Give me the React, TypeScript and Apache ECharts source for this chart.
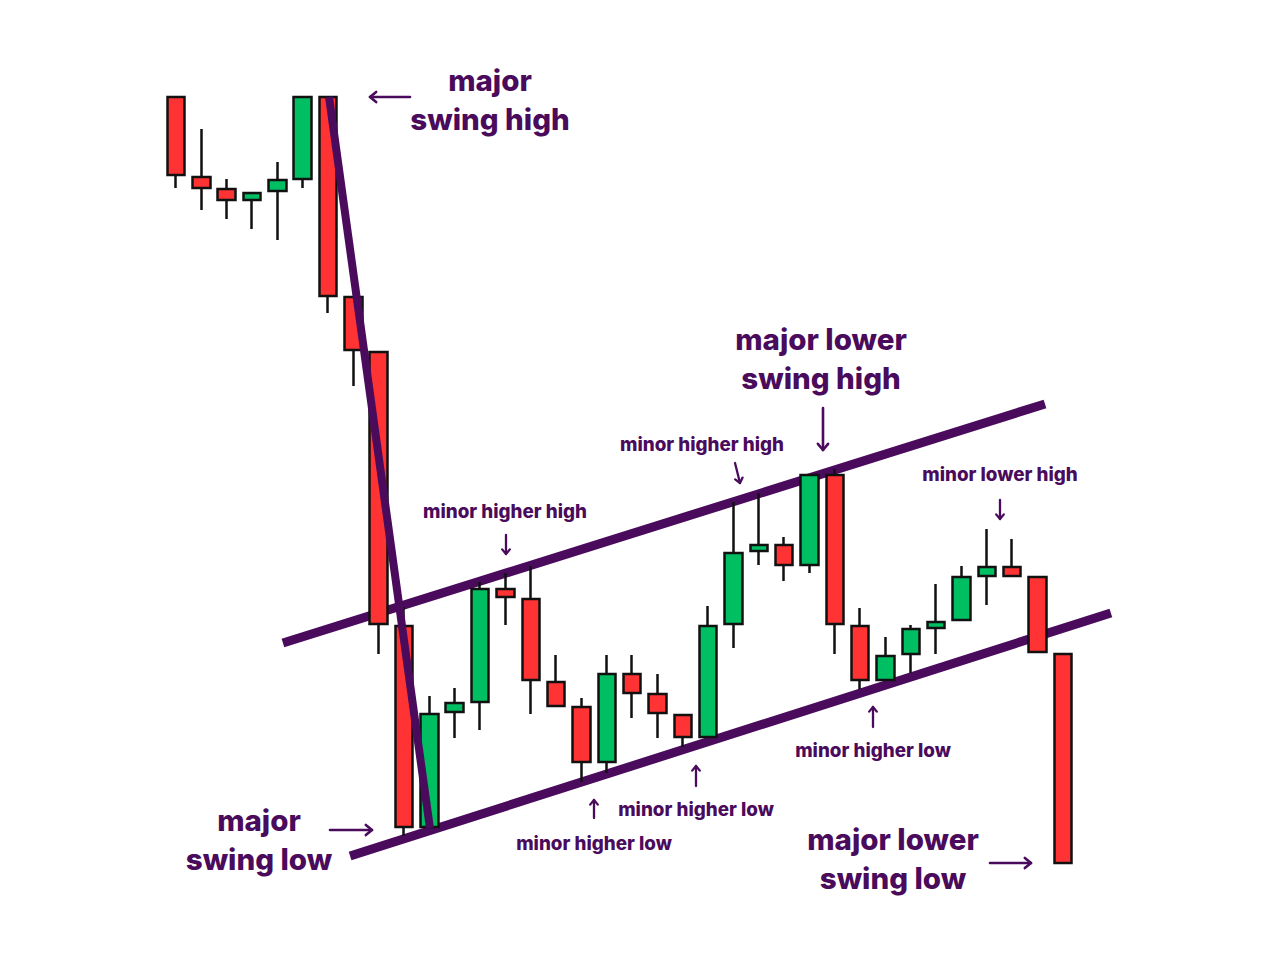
import { useEffect, useRef } from 'react'
import * as echarts from 'echarts'

// Candle data (price units, higher = up the screen).
const categories = [
  'C01', 'C02', 'C03', 'C04', 'C05', 'C06', 'C07', 'C08', 'C09', 'C10', 'C11', 'C12',
  'C13', 'C14', 'C15', 'C16', 'C17', 'C18', 'C19', 'C20', 'C21', 'C22', 'C23', 'C24',
  'C25', 'C26', 'C27', 'C28', 'C29', 'C30', 'C31', 'C32', 'C33', 'C34', 'C35', 'C36',
]
const opens = [
  863, 783, 771, 760, 769, 781, 863, 663, 608, 334, 133, 248,
  258, 371, 361, 278, 253, 198, 286, 266, 245, 223, 336, 409,
  415, 395, 485, 334, 280, 306, 332, 340, 384, 393, 383, 306,
]
const closes = [
  785, 772, 760, 767, 780, 863, 664, 610, 336, 133, 246, 257,
  371, 363, 280, 254, 198, 286, 267, 247, 223, 334, 407, 415,
  395, 485, 336, 280, 304, 331, 338, 383, 393, 384, 308, 97,
]
const lows = [
  772, 750, 741, 731, 720, 772, 647, 574, 306, 124, 133, 222,
  230, 335, 246, 254, 178, 187, 242, 222, 213, 223, 312, 395,
  379, 387, 306, 271, 280, 287, 306, 340, 355, 384, 308, 97,
]
const highs = [
  863, 831, 781, 767, 798, 863, 863, 663, 608, 353, 264, 272,
  378, 387, 394, 305, 262, 305, 305, 286, 245, 354, 458, 467,
  423, 485, 491, 352, 323, 335, 376, 394, 431, 421, 383, 306,
]

// Trend lines as [candle index, price] end points.
const crashLine = [[6.04, 863], [10.02, 132]]
const channelTop = [[4.22, 317], [34.29, 556]]
const channelBottom = [[6.87, 104], [36.89, 347]]

const RED = '#ff3333'
const GREEN = '#00bf63'
const INK = '#111111'
const PURPLE = '#4a0b5c'
const FONT = 'Inter, "Noto Sans", sans-serif'

// Candle grid geometry, in px: band edges and candle pitch.
const GRID_LEFT = 163.3
const GRID_RIGHT = 204.4
const PITCH = 25.343

type Pt = [number, number]

function arrow(from: Pt, to: Pt, head = 8, width = 2.6) {
  const ang = Math.atan2(to[1] - from[1], to[0] - from[0])
  const spread = Math.PI * 0.78
  const p1: Pt = [to[0] + head * Math.cos(ang + spread), to[1] + head * Math.sin(ang + spread)]
  const p2: Pt = [to[0] + head * Math.cos(ang - spread), to[1] + head * Math.sin(ang - spread)]
  return {
    type: 'group',
    silent: true,
    children: [
      {
        type: 'line',
        shape: { x1: from[0], y1: from[1], x2: to[0], y2: to[1] },
        style: { stroke: PURPLE, lineWidth: width, lineCap: 'round' },
      },
      {
        type: 'polyline',
        shape: { points: [p1, to, p2] },
        style: { stroke: PURPLE, lineWidth: width, fill: null, lineCap: 'round', lineJoin: 'round' },
      },
    ],
  }
}

function label(text: string, x: number, y: number, size: number) {
  return {
    type: 'text',
    x,
    y,
    silent: true,
    style: {
      text,
      fill: PURPLE,
      fontSize: size,
      fontWeight: 800,
      fontFamily: FONT,
      align: 'center',
      verticalAlign: 'middle',
      textAlign: 'center',
      textVerticalAlign: 'middle',
    },
  }
}

const BIG = 29.5
const SMALL = 18.8

function buildOption(): echarts.EChartsCoreOption {
  const candles = categories.map((_, i) => [opens[i], closes[i], lows[i], highs[i]])
  // Lines live on a second, wider grid with the same px-per-candle scale,
  // so segments that run past the last candle are not clipped.
  const lineGridWidth = 1280 - GRID_LEFT
  const trend = (data: number[][], z: number, width = 9) => ({
    type: 'line',
    xAxisIndex: 1,
    yAxisIndex: 1,
    data,
    symbol: 'none',
    clip: false,
    silent: true,
    z,
    lineStyle: { color: PURPLE, width, cap: 'butt' },
  })

  return {
    animation: false,
    backgroundColor: '#ffffff',
    grid: [
      { left: GRID_LEFT, right: GRID_RIGHT, top: 0, bottom: 0 },
      { left: GRID_LEFT, right: 0, top: 0, bottom: 0 },
    ],
    xAxis: [
      { type: 'category', gridIndex: 0, data: categories, show: false, boundaryGap: true },
      {
        type: 'value',
        gridIndex: 1,
        min: -0.5,
        max: -0.5 + lineGridWidth / PITCH,
        show: false,
      },
    ],
    yAxis: [
      { type: 'value', gridIndex: 0, min: 0, max: 960, show: false },
      { type: 'value', gridIndex: 1, min: 0, max: 960, show: false },
    ],
    series: [
      trend(channelTop, 1),
      trend(channelBottom, 1),
      {
        type: 'candlestick',
        data: candles,
        barWidth: 18,
        z: 2,
        silent: true,
        itemStyle: {
          color: GREEN,
          color0: RED,
          borderColor: INK,
          borderColor0: INK,
          borderWidth: 2.5,
        },
      },
      trend(crashLine, 3, 8),
    ],
    graphic: [
      label('major', 490, 80, BIG),
      label('swing high', 490, 119, BIG),
      arrow([410, 97], [370, 97]),
      label('major lower', 821, 339, BIG),
      label('swing high', 821, 378, BIG),
      arrow([823, 408], [823, 450]),
      label('minor higher high', 702, 444, SMALL),
      arrow([735, 463], [740, 483], 6, 2.3),
      label('minor higher high', 505, 511, SMALL),
      arrow([506, 535], [506, 554], 6, 2.3),
      label('minor lower high', 1000, 474, SMALL),
      arrow([1000, 500], [1000, 519], 6, 2.3),
      label('minor higher low', 873, 750, SMALL),
      arrow([873, 727], [873, 707], 6, 2.3),
      label('minor higher low', 696, 809, SMALL),
      arrow([696, 786], [696, 766], 6, 2.3),
      label('minor higher low', 594, 843, SMALL),
      arrow([594, 818], [594, 800], 6, 2.3),
      label('major', 259, 820, BIG),
      label('swing low', 259, 859, BIG),
      arrow([330, 830], [372, 830]),
      label('major lower', 893, 839, BIG),
      label('swing low', 893, 878, BIG),
      arrow([990, 863], [1031, 863]),
    ],
  }
}

export default function App() {
  const ref = useRef<HTMLDivElement>(null)

  useEffect(() => {
    const el = ref.current
    if (!el) return
    const chart = echarts.init(el, undefined, { renderer: 'svg' })
    chart.setOption(buildOption())
    return () => chart.dispose()
  }, [])

  return (
    <div
      ref={ref}
      style={{ position: 'fixed', left: 0, top: 0, width: 1280, height: 960, background: '#fff' }}
    />
  )
}
